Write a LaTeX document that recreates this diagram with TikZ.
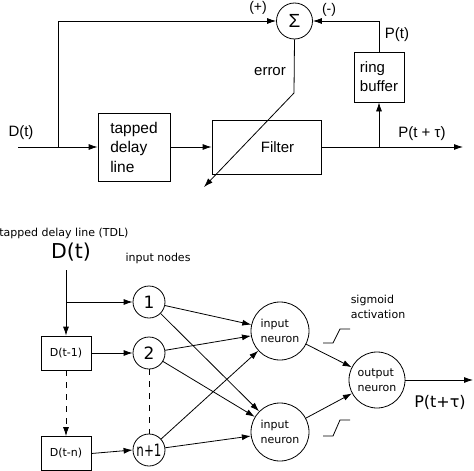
\documentclass[tikz,border=0pt]{standalone}
\usepackage{fontspec}
\usepackage{graphicx}
\setmainfont{Liberation Sans}
\newfontfamily\netfont{DejaVu Sans}
\usetikzlibrary{arrows.meta,positioning,calc}
\tikzset{predictor layout/.style={%
    y=-1pt,
    x=1pt,
    every node/.style={%
        inner sep=0pt, font=\fontsize{15}{19}\selectfont
    },
    every path/.style={%
        black, line width=0.8pt
    }
}}
\tikzset{link/.style={-{Latex[width=6pt,length=9pt]}}}
\tikzset{blockbox/.style={draw, rectangle, align=left}}
\tikzset{unit/.style={draw, circle}}
\tikzset{net text/.style={font=\netfont\fontsize{11}{15}\selectfont, align=left}}
\begin{document}
\begin{tikzpicture}[predictor layout]
    \useasboundingbox (0,0) rectangle (474,471);

    % adaptive predictor
    \node[unit, minimum size=36pt, font=\fontsize{19}{19}\selectfont] (sum) at (294.5,21) {Σ};
    \node[blockbox, minimum width=72pt, minimum height=68pt, font=\fontsize{15.5}{19.5}\selectfont] (tdl) at (134,147) {tapped\\delay\\line};
    \node[blockbox, minimum width=109pt, minimum height=54pt,
        label={[xshift=11pt]center:Filter}] (filt) at (266.5,147) {};
    \node[blockbox, minimum width=50pt, minimum height=50pt] (ring) at (379,77) {ring\\buffer};
    \coordinate (din) at (18,147);
    \coordinate (j1) at (58,147);
    \coordinate (j2) at (379,147);
    \coordinate (pout) at (463,147);
    \coordinate (ebend) at (294,93);
    \coordinate (etip) at (204,187);

    \draw[link] (din) -- (tdl.west);
    \draw[link] (j1) |- (sum.west);
    \draw[link] (tdl.east) -- (filt.west);
    \draw[link] (filt.east) -- (pout);
    \draw[link] (j2) -- (ring.south);
    \draw[link] (ring.north) |- (sum.east);
    \draw[link] (sum.south) -- (ebend) -- (etip);

    \node[font=\fontsize{14}{14}\selectfont] (lplus) at (258,8) {(+)};
    \node[font=\fontsize{14}{14}\selectfont] (lminus) at (329,10) {(-)};
    \node (lpt) at (397,35) {P(t)};
    \node (lerr) at (270,72) {error};
    \node (ldt) at (21,133) {D(t)};
    \node (lpnext) at (422,134) {P(t + τ)};

    % neural network
    \node[net text, anchor=west] (title) at (-1,233) {tapped delay line (TDL)};
    \node[net text, font=\netfont\fontsize{20.5}{20.5}\selectfont] (dbig) at (71,252) {D(t)};
    \node[net text] (lnodes) at (158,258) {input nodes};
    \node[blockbox, net text, minimum width=50pt, minimum height=34pt] (dm1) at (66,353) {D(t-1)};
    \node[blockbox, net text, minimum width=50pt, minimum height=34pt] (dmn) at (66,453.5) {D(t-n)};
    \foreach \y/\t [count=\i] in {302/1,353/2,450/{\scalebox{0.7}[1]{n+1}}} {
        \node[unit, minimum size=32pt, font=\netfont\fontsize{17}{17}\selectfont] (n\i) at (149,\y) {\t};
    }
    \foreach \y [count=\i] in {331,432} {
        \node[unit, net text, minimum size=58pt] (h\i) at (280,\y) {input\\neuron};
    }
    \node[unit, net text, minimum size=56pt] (out) at (377,380) {output\\neuron};
    \node[net text] (lsig) at (378,307) {sigmoid\\activation};
    \node[net text, font=\netfont\fontsize{16}{16}\selectfont] (lpnet) at (440,402) {P(t+τ)};

    \coordinate (dtop) at (66,270);
    \coordinate (j3) at (66,302);
    \coordinate (pend) at (473,380);
    \draw[link] (dtop) -- (dm1.north);
    \draw[link] (j3) -- (n1.west);
    \draw[link, dash pattern=on 6pt off 6pt] (dm1.south) -- (dmn.north);
    \draw[dash pattern=on 6pt off 6pt] (n2.south) -- (n3.north);
    \draw[link] (dm1.east) -- (n2.west);
    \draw[link] (dmn.east) -- (n3.west);
    \foreach \a in {1,2,3} {
        \foreach \b in {1,2} {
            \draw[link] (n\a) -- (h\b);
        }
    }
    \draw[link] (h1) -- (out);
    \draw[link] (h2) -- (out);
    \draw[link] (out.east) -- (pend);

    % sigmoid marks
    \draw (323,343) -- (333,343) -- (340,329) -- (350,329);
    \draw (323,436) -- (333,436) -- (340,420) -- (350,420);
\end{tikzpicture}
\end{document}
